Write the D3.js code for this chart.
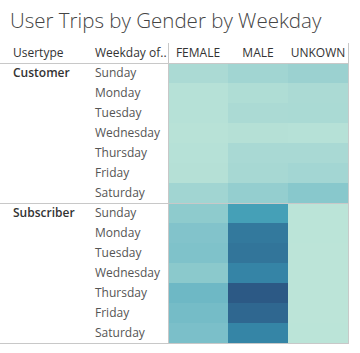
<!DOCTYPE html>
<html>
<head>
<meta charset="utf-8">
<script src="https://cdn.jsdelivr.net/npm/d3@7"></script>
<style>
  body { margin: 0; background: #fff; }
  text { font-family: "Open Sans", "Noto Sans", sans-serif; }
</style>
</head>
<body>
<div id="heatmap"></div>
<script>
var usertypes = ["Customer", "Subscriber"];
var weekdays = ["Sunday", "Monday", "Tuesday", "Wednesday", "Thursday", "Friday", "Saturday"];
var genders = ["FEMALE", "MALE", "UNKOWN"];

// trip counts, one array per usertype + gender, Sunday..Saturday
var customerFemale = [12800, 5300, 5300, 4300, 5300, 6200, 20300];
var customerMale = [20300, 10000, 12800, 6200, 14600, 15600, 29700];
var customerUnknown = [25000, 12800, 13700, 5300, 14600, 18400, 39100];
var subscriberFemale = [34400, 44700, 46600, 37200, 59700, 55000, 50400];
var subscriberMale = [90700, 137700, 142400, 123600, 177200, 159300, 122700];
var subscriberUnknown = [2000, 1900, 1500, 1600, 1700, 1800, 1900];

var palette = ["#bce4d8", "#aedcd5", "#a1d5d2", "#95cecf", "#89c8cc", "#7ec1ca", "#72bac6",
  "#66b2c2", "#59acbe", "#4ba5ba", "#419eb6", "#3b96b2", "#358ead", "#3586a7", "#347ea1",
  "#32779b", "#316f96", "#2f6790", "#2d608a", "#2c5985"];

var series = {
  Customer: [customerFemale, customerMale, customerUnknown],
  Subscriber: [subscriberFemale, subscriberMale, subscriberUnknown]
};

var cells = [];
usertypes.forEach(function(u) {
  genders.forEach(function(g, gi) {
    weekdays.forEach(function(w, wi) {
      cells.push({ usertype: u, gender: g, weekday: w, row: u + "|" + w, value: series[u][gi][wi] });
    });
  });
});

var width = 360, height = 353;
var svg = d3.select("#heatmap").append("svg")
  .attr("width", width)
  .attr("height", height);

var x = d3.scaleBand().domain(genders).range([168, 348]);
var rows = [];
usertypes.forEach(function(u) { weekdays.forEach(function(w) { rows.push(u + "|" + w); }); });
var y = d3.scaleBand().domain(rows).range([63, 343]);

var vmin = d3.min(cells, function(d) { return d.value; });
var vmax = d3.max(cells, function(d) { return d.value; });
var color = d3.scaleLinear()
  .domain(palette.map(function(p, i) { return vmin + i * (vmax - vmin) / (palette.length - 1); }))
  .range(palette);

// title
svg.append("text")
  .attr("x", 10)
  .attr("y", 28)
  .style("font-size", "20.5px")
  .style("font-weight", 300)
  .attr("fill", "#444")
  .text("User Trips by Gender by Weekday");

// cells
svg.selectAll("rect.cell")
  .data(cells)
  .enter()
  .append("rect")
  .attr("class", "cell")
  .attr("x", function(d) { return x(d.gender); })
  .attr("y", function(d) { return y(d.row); })
  .attr("width", x.bandwidth())
  .attr("height", y.bandwidth())
  .attr("fill", function(d) { return color(d.value); });

// header
svg.append("text").attr("x", 13).attr("y", 57)
  .style("font-size", "12px").style("font-weight", 500).attr("fill", "#333").text("Usertype");
svg.append("text").attr("x", 95).attr("y", 57)
  .style("font-size", "12px").style("font-weight", 500).attr("fill", "#333").text("Weekday of..");

svg.selectAll("text.col")
  .data(genders)
  .enter()
  .append("text")
  .attr("class", "col")
  .attr("x", function(d) { return x(d) + x.bandwidth() / 2; })
  .attr("y", 57)
  .attr("text-anchor", "middle")
  .style("font-size", "12px")
  .attr("fill", "#333")
  .text(function(d) { return d; });

// row labels
svg.selectAll("text.usertype")
  .data(usertypes)
  .enter()
  .append("text")
  .attr("class", "usertype")
  .attr("x", 13)
  .attr("y", function(d) { return y(d + "|Sunday") + 14; })
  .style("font-size", "12px")
  .style("font-weight", 600)
  .attr("fill", "#333")
  .text(function(d) { return d; });

svg.selectAll("text.weekday")
  .data(rows)
  .enter()
  .append("text")
  .attr("class", "weekday")
  .attr("x", 95)
  .attr("y", function(d) { return y(d) + 14; })
  .style("font-size", "12px")
  .attr("fill", "#555")
  .text(function(d) { return d.split("|")[1]; });

// grid lines
var lineColor = "#c8c8c8";
[63, 203, 343].forEach(function(ly) {
  svg.append("line")
    .attr("x1", 0).attr("x2", 348)
    .attr("y1", ly + 0.5).attr("y2", ly + 0.5)
    .attr("stroke", lineColor);
});
[168, 348].forEach(function(lx) {
  svg.append("line")
    .attr("x1", lx + 0.5).attr("x2", lx + 0.5)
    .attr("y1", 43).attr("y2", 344)
    .attr("stroke", lineColor);
});
</script>
</body>
</html>
